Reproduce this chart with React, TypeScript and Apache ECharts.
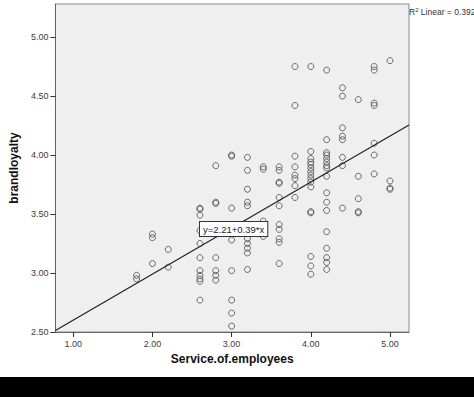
import React, { useEffect, useRef } from "react";
import * as echarts from "echarts";

// Service.of.employees column values and the brandloyalty values observed at each
const serviceLevels = [1.8, 2.0, 2.2, 2.6, 2.8, 3.0, 3.2, 3.4, 3.6, 3.8, 4.0, 4.2, 4.4, 4.6, 4.8, 5.0];
const loyaltyByLevel: number[][] = [
  [2.98, 2.95],
  [3.33, 3.3, 3.08],
  [3.2, 3.05],
  [3.55, 3.54, 3.49, 3.36, 3.25, 3.13, 3.02, 2.98, 2.95, 2.93, 2.77],
  [3.91, 3.6, 3.59, 3.13, 3.02, 2.98, 2.94],
  [4.0, 3.99, 3.55, 3.28, 3.02, 2.77, 2.66, 2.55],
  [3.98, 3.87, 3.71, 3.6, 3.57, 3.29, 3.25, 3.21, 3.17, 3.03],
  [3.9, 3.88, 3.44, 3.4, 3.31],
  [3.9, 3.87, 3.77, 3.76, 3.64, 3.57, 3.41, 3.37, 3.29, 3.26, 3.08],
  [4.75, 4.42, 3.99, 3.9, 3.83, 3.8, 3.74, 3.64],
  [4.75, 4.03, 3.97, 3.94, 3.92, 3.89, 3.86, 3.83, 3.8, 3.77, 3.73, 3.52, 3.51, 3.14, 3.06, 2.99],
  [4.72, 4.13, 4.02, 4.0, 3.97, 3.94, 3.91, 3.89, 3.82, 3.68, 3.6, 3.53, 3.35, 3.21, 3.13, 3.09, 3.03],
  [4.57, 4.5, 4.23, 4.16, 4.13, 3.98, 3.91, 3.55],
  [4.47, 3.82, 3.63, 3.52, 3.51],
  [4.75, 4.72, 4.44, 4.42, 4.1, 4.0, 3.84],
  [4.8, 3.78, 3.72, 3.71],
];

const xTicks = [1, 2, 3, 4, 5];
const yTicks = [2.5, 3, 3.5, 4, 4.5, 5];
const xRange = [0.775, 5.24];
const yRange = [2.5, 5.28];
const intercept = 2.21;
const slope = 0.39;
const rSquared = 0.392;

const FONT = "Liberation Sans, Arial, sans-serif";

export default function App() {
  const ref = useRef<HTMLDivElement>(null);
  useEffect(() => {
    if (!ref.current) return;
    const chart = echarts.init(ref.current, undefined, { renderer: "svg" });
    const points: number[][] = [];
    serviceLevels.forEach((x, i) => loyaltyByLevel[i].forEach((y) => points.push([x, y])));
    const fitLine = xRange.map((x) => [x, intercept + slope * x]);

    chart.setOption({
      animation: false,
      backgroundColor: "#ffffff",
      textStyle: { fontFamily: FONT },
      grid: {
        left: 51,
        top: 4,
        right: 65,
        bottom: 65,
        show: true,
        backgroundColor: "#efefef",
        borderColor: "#8c8c8c",
        borderWidth: 1,
      },
      xAxis: {
        type: "value",
        min: xRange[0],
        max: xRange[1],
        name: "Service.of.employees",
        nameLocation: "middle",
        nameGap: 21,
        nameTextStyle: { fontFamily: FONT, fontWeight: "bold", fontSize: 12, color: "#111" },
        splitLine: { show: false },
        axisLine: { show: true, lineStyle: { color: "#666", width: 1 } },
        axisTick: { show: true, length: 5, customValues: xTicks, lineStyle: { color: "#333" } },
        axisLabel: {
          customValues: xTicks,
          margin: 7,
          fontSize: 9,
          color: "#3c3c3c",
          fontFamily: FONT,
          formatter: (v: number) => v.toFixed(2),
        },
      },
      yAxis: {
        type: "value",
        min: yRange[0],
        max: yRange[1],
        name: "brandloyalty",
        nameLocation: "middle",
        nameGap: 33,
        nameTextStyle: { fontFamily: FONT, fontWeight: "bold", fontSize: 12, color: "#111" },
        splitLine: { show: false },
        axisLine: { show: true, lineStyle: { color: "#666", width: 1 } },
        axisTick: { show: true, length: 5, customValues: yTicks, lineStyle: { color: "#333" } },
        axisLabel: {
          customValues: yTicks,
          margin: 7,
          fontSize: 9,
          color: "#3c3c3c",
          fontFamily: FONT,
          formatter: (v: number) => v.toFixed(2),
        },
      },
      series: [
        {
          type: "scatter",
          data: points,
          symbol: "circle",
          symbolSize: 6,
          itemStyle: { color: "rgba(0,0,0,0)", borderColor: "#4a4a4a", borderWidth: 1 },
          silent: true,
          z: 2,
        },
        {
          type: "line",
          data: fitLine,
          symbol: "none",
          lineStyle: { color: "#222", width: 1.2 },
          silent: true,
          z: 3,
        },
      ],
      graphic: [
        {
          type: "text",
          left: 199,
          top: 221,
          z: 10,
          style: {
            text: `y=${intercept.toFixed(2)}+${slope.toFixed(2)}*x`,
            fontFamily: FONT,
            fontSize: 9.5,
            fill: "#222",
            backgroundColor: "#ffffff",
            borderColor: "#333",
            borderWidth: 1,
            padding: [2, 3, 2, 3],
          },
        },
        {
          type: "text",
          left: 409,
          top: 7,
          z: 10,
          style: {
            text: `{r|R}{s|2}{r| Linear = ${rSquared.toFixed(3)}}`,
            rich: {
              r: { fontFamily: FONT, fontSize: 8.5, fill: "#333", verticalAlign: "bottom" },
              s: { fontFamily: FONT, fontSize: 6, fill: "#333", verticalAlign: "top" },
            },
          },
        },
        {
          type: "rect",
          left: 0,
          top: 377,
          z: 10,
          shape: { width: 474, height: 20 },
          style: { fill: "#000" },
        },
      ],
    });
    return () => chart.dispose();
  }, []);
  return (
    <div
      ref={ref}
      style={{ position: "fixed", left: 0, top: 0, width: 474, height: 397 }}
    />
  );
}
